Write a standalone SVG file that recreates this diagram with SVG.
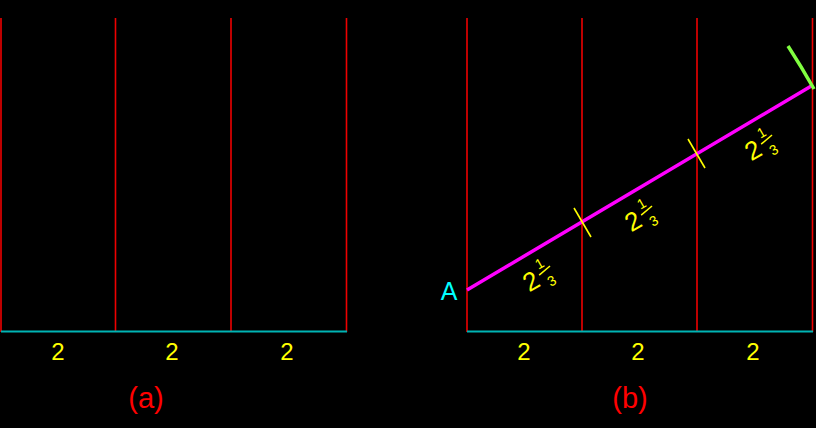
<svg xmlns="http://www.w3.org/2000/svg" width="816" height="428" viewBox="0 0 816 428">
<style>
.red{stroke:#ee0000;stroke-width:1.6;fill:none}
.base{stroke:#00b4b4;stroke-width:2;fill:none}
.num{font-family:"Liberation Sans",Arial,sans-serif;font-size:24px;fill:#ffff00;text-anchor:middle}
.big{font-family:"Liberation Sans",Arial,sans-serif;font-size:26px;fill:#ffff00;text-anchor:middle}
.small{font-family:"Liberation Sans",Arial,sans-serif;font-size:14px;fill:#ffff00;text-anchor:middle}
.cap{font-family:"Liberation Sans",Arial,sans-serif;font-size:29px;fill:#ff0000;text-anchor:middle}
.tick{stroke:#ffff00;stroke-width:1.6}
.bar{stroke:#ffff00;stroke-width:1.5}
</style>
<rect width="816" height="428" fill="#000"/>
<g id="panel-a">
<line class="red" x1="1" y1="18" x2="1" y2="332"/>
<line class="red" x1="115.5" y1="18" x2="115.5" y2="332"/>
<line class="red" x1="231" y1="18" x2="231" y2="332"/>
<line class="red" x1="346.5" y1="18" x2="346.5" y2="332"/>
<line class="base" x1="1" y1="331.5" x2="347" y2="331.5"/>
<text class="num" x="58" y="360">2</text>
<text class="num" x="172" y="360">2</text>
<text class="num" x="287" y="360">2</text>
<text class="cap" x="146" y="408">(a)</text>
</g>
<g id="panel-b">
<line class="red" x1="467" y1="18" x2="467" y2="332"/>
<line class="red" x1="582" y1="18" x2="582" y2="332"/>
<line class="red" x1="697" y1="18" x2="697" y2="332"/>
<line class="red" x1="812.5" y1="18" x2="812.5" y2="332"/>
<line class="base" x1="467" y1="331.5" x2="813" y2="331.5"/>
<text class="num" x="524" y="360">2</text>
<text class="num" x="638" y="360">2</text>
<text class="num" x="753" y="360">2</text>
<text class="cap" x="630" y="408">(b)</text>
</g>
<g id="connectors">
<line x1="467" y1="290" x2="813" y2="85" stroke="#ff00ff" stroke-width="3.5"/>
<path d="M788,46 Q801,66 814,89" stroke="#80ff40" stroke-width="3.5" fill="none"/>
<line class="tick" x1="574" y1="208" x2="591" y2="237"/>
<line class="tick" x1="688" y1="139" x2="705" y2="168"/>
</g>
<g id="label-A"><text x="449" y="300" font-family="Liberation Sans,Arial,sans-serif" font-size="25" fill="#00ffff" text-anchor="middle">A</text></g>
<g id="seg1" transform="translate(531,281) rotate(-30)">
<text class="big" x="0" y="9">2</text>
<text class="small" x="16" y="-6">1</text>
<line class="bar" x1="10" y1="-1" x2="24" y2="-3.5"/>
<text class="small" x="18" y="15">3</text>
</g>
<g id="seg2" transform="translate(633,221) rotate(-30)">
<text class="big" x="0" y="9">2</text>
<text class="small" x="16" y="-6">1</text>
<line class="bar" x1="10" y1="-1" x2="24" y2="-3.5"/>
<text class="small" x="18" y="15">3</text>
</g>
<g id="seg3" transform="translate(753,150) rotate(-30)">
<text class="big" x="0" y="9">2</text>
<text class="small" x="16" y="-6">1</text>
<line class="bar" x1="10" y1="-1" x2="24" y2="-3.5"/>
<text class="small" x="18" y="15">3</text>
</g>
</svg>
